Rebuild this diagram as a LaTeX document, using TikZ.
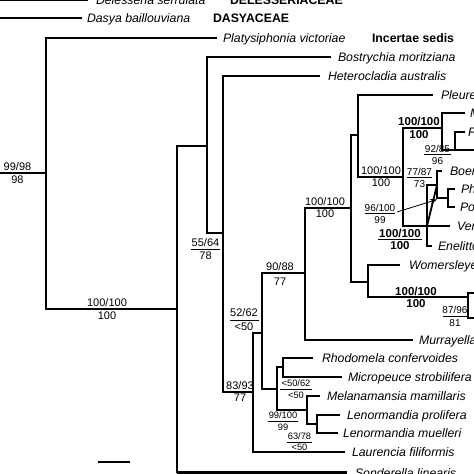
\documentclass[tikz,border=0pt]{standalone}
\usepackage{fontspec}
\setmainfont{Liberation Sans}
\usetikzlibrary{arrows.meta}
\tikzset{
  br/.style={line width=1.8pt, line join=miter},
  brthick/.style={line width=3.5pt},
  tx/.style={anchor=west, inner ysep=0pt, outer sep=0pt, inner xsep=#1, text height=8.8pt, text depth=0pt, font=\fontsize{12.3}{14}\selectfont\itshape},
  tx/.default=6pt,
  fam/.style={anchor=west, inner sep=0pt, outer sep=0pt, text height=8.8pt, text depth=0pt, font=\fontsize{12.3}{14}\selectfont\bfseries},
  bs/.style={inner sep=0pt, text height=7.9pt, text depth=0pt, font=\fontsize{11}{11}\selectfont},
  bsb/.style={inner sep=0pt, text height=8.2pt, text depth=0pt, font=\fontsize{11.5}{11}\selectfont\bfseries},
  bss/.style={inner sep=0pt, text height=7.2pt, text depth=0pt, font=\fontsize{10}{10}\selectfont},
  bsx/.style={inner sep=0pt, text height=6.6pt, text depth=0pt, font=\fontsize{9.3}{9}\selectfont},
  ul/.style={line width=0.9pt},
}
\begin{document}
\begin{tikzpicture}[x=1pt,y=-1pt]
\useasboundingbox (0,0) rectangle (474,474);
\clip (0,0) rectangle (474,474);

% internal nodes
\coordinate (r0) at (0,173);
\coordinate (n1) at (46,173);
\coordinate (n2) at (177,309);
\coordinate (n3) at (207,146);
\coordinate (n4) at (223,233);
\coordinate (n5) at (253,392);
\coordinate (n6) at (262,333);
\coordinate (n7) at (305,273);
\coordinate (n8) at (351,208);
\coordinate (n9) at (358,135);
\coordinate (n10) at (403,177);
\coordinate (n11) at (442,128);
\coordinate (n11b) at (455,150);
\coordinate (off1) at (474,150);
\coordinate (n13) at (427,226);
\coordinate (n13a) at (437,185);
\coordinate (n13b) at (448,198);
\coordinate (n14) at (368,282);
\coordinate (n15) at (468,297);
\coordinate (off2) at (474,293);
\coordinate (off3) at (474,318);
\coordinate (n12) at (277,389);
\coordinate (n12a) at (283,367);
\coordinate (n12b) at (307,410);
\coordinate (n12c) at (317,424);
\coordinate (l0) at (0,0);
\coordinate (l1) at (0,18);

% leaves
\node[tx=8pt] (del) at (88,0) {Delessena serrulata};
\node[fam] (delf) at (230,0) {DELESSERIACEAE};
\node[tx=5pt] (das) at (82,18) {Dasya baillouviana};
\node[fam] (dasf) at (213,18) {DASYACEAE};
\node[tx=6pt] (pla) at (217,38) {Platysiphonia victoriae};
\node[fam] (plaf) at (372,38) {Incertae sedis};
\node[tx=7pt] (bos) at (331,57) {Bostrychia moritziana};
\node[tx=8pt] (het) at (320,76) {Heterocladia australis};
\node[tx=8pt] (ple) at (433,95) {Pleure};
\node[tx=5pt] (mm) at (465,113) {M};
\node[tx=3pt] (ff) at (465,132) {F};
\node[tx=8pt] (boe) at (442,171) {Boergeseniella};
\node[tx=6pt] (ph) at (455,189) {Ph};
\node[tx=5pt] (po) at (455,207) {Po};
\node[tx=7pt] (ver) at (450,226) {Ver};
\node[tx=6pt] (ene) at (432,246) {Enelittosiphonia};
\node[tx=9pt] (wom) at (400,265) {Womersleyella};
\node[tx=6pt] (mur) at (413,340) {Murrayella};
\node[tx=9pt] (rho) at (313,358) {Rhodomela confervoides};
\node[tx=6pt] (mic) at (342,377) {Micropeuce strobilifera};
\node[tx=7pt] (mel) at (320,396) {Melanamansia mamillaris};
\node[tx=7pt] (lpr) at (340,415) {Lenormandia prolifera};
\node[tx=5pt] (lmu) at (338,433) {Lenormandia muelleri};
\node[tx=7pt] (lau) at (345,452) {Laurencia filiformis};
\node[tx=8pt] (son) at (347,473) {Sonderella linearis};

% branches
\draw[br] (l0) -- (del.west);
\draw[br] (l1) -- (das.west);
\draw[br] (r0) -- (n1);
\draw[br] (n1) |- (pla.west);
\draw[br] (n1) |- (n2);
\draw[br] (n2) |- (n3);
\draw[br] (n2) |- (son.west -| n2) ;
\draw[brthick] (n2 |- son.west) -- (son.west);
\draw[br] (n3) |- (bos.west);
\draw[br] (n3) |- (n4);
\draw[br] (n4) |- (het.west);
\draw[br] (n4) |- (n5);
\draw[br] (n5) |- (n6);
\draw[br] (n5) |- (lau.west);
\draw[br] (n6) |- (n7);
\draw[br] (n6) |- (n12);
\draw[br] (n7) |- (n8);
\draw[br] (n7) |- (mur.west);
\draw[br] (n8) |- (n9);
\draw[br] (n8) |- (n14);
\draw[br] (n9) |- (ple.west);
\draw[br] (n9) |- (n10);
\draw[br] (n10) |- (n11);
\draw[br] (n10) |- (n13);
\draw[br] (n11) |- (mm.west);
\draw[br] (n11) |- (off1);
\draw[br] (n11b) |- (ff.west);
\draw[br, line width=2.4pt] (n13) |- (n13a);
\draw[br] (n13a) -- (n13);
\draw[br] (n13) -- (ver.west);
\draw[br, line width=2.4pt] (n13) |- (ene.west);
\draw[br] (n13a) |- (boe.west);
\draw[br] (n13a) |- (n13b);
\draw[br] (n13b) |- (ph.west);
\draw[br] (n13b) |- (po.west);
\draw[br] (n14) |- (wom.west);
\draw[br] (n14) |- (n15);
\draw[br, line width=2.2pt] (n15) |- (off2);
\draw[br, line width=2.2pt] (n15) |- (off3);
\draw[br] (n12) |- (n12a);
\draw[br] (n12) |- (n12b);
\draw[br] (n12a) |- (rho.west);
\draw[br] (n12a) |- (mic.west);
\draw[br] (n12b) |- (mel.west);
\draw[br] (n12b) |- (n12c);
\draw[br] (n12c) |- (lpr.west);
\draw[br] (n12c) |- (lmu.west);

% support values
\node[bs] (s1a) at (17.5,167) {99/98};
\node[bs] (s1b) at (17.5,180) {98};
\node[bs] (s2a) at (107,303) {100/100};
\node[bs] (s2b) at (107,316) {100};
\node[bs] (s3a) at (205.5,243) {55/64};
\node[bs] (s3b) at (205.5,256) {78};
\draw[ul] (191,249.5) -- (220,249.5);
\node[bs] (s4a) at (244,313) {52/62};
\node[bs] (s4b) at (244,327) {<50};
\draw[ul] (230,320) -- (259,320);
\node[bs] (s5a) at (240,386) {83/93};
\node[bs] (s5b) at (240,398) {77};
\node[bs] (s6a) at (280,267) {90/88};
\node[bs] (s6b) at (280,282) {77};
\node[bs] (s7a) at (325,202) {100/100};
\node[bs] (s7b) at (325,214) {100};
\node[bs] (s8a) at (381,171) {100/100};
\node[bs] (s8b) at (381,182.5) {100};
\node[bsb] (s9a) at (419,121.5) {100/100};
\node[bsb] (s9b) at (419,134) {100};
\node[bss] (s10a) at (437.5,148.5) {92/85};
\node[bss] (s10b) at (437.5,160.5) {96};
\draw[ul] (424,154.5) -- (451,154.5);
\node[bss] (s11a) at (419.5,171.5) {77/87};
\node[bss] (s11b) at (419.5,183.5) {73};
\draw[ul] (407,177.5) -- (432,177.5);
\node[bss] (s12a) at (380,207.5) {96/100};
\node[bss] (s12b) at (380,219.5) {99};
\draw[ul] (365,213) -- (395,213);
\coordinate (a96) at (397,212);
\coordinate (at96) at (437,199.5);
\draw[line width=0.8pt, -{Stealth[length=7pt,width=5.5pt]}] (a96) -- (at96);
\node[bsb] (s13a) at (400,233) {100/100};
\node[bsb] (s13b) at (400,245.5) {100};
\draw[line width=1.6pt] (378,239.3) -- (422,239.3);
\node[bsb] (s14a) at (416,291) {100/100};
\node[bsb] (s14b) at (416,303.5) {100};
\node[bss] (s15a) at (455,310) {87/96};
\node[bss] (s15b) at (455,322.5) {81};
\draw[ul] (443,316) -- (467,316);
\node[bsx] (s16a) at (296,383) {<50/62};
\node[bsx] (s16b) at (296,395) {<50};
\draw[ul] (280,389) -- (312,389);
\node[bsx] (s17a) at (283,415) {99/100};
\node[bsx] (s17b) at (283,427) {99};
\draw[ul] (268,421) -- (298,421);
\node[bsx] (s18a) at (299.5,436) {63/78};
\node[bsx] (s18b) at (299.5,447.5) {<50};
\draw[ul] (287,442) -- (312,442);

% scale bar
\coordinate (sb1) at (98,462);
\coordinate (sb2) at (130,462);
\draw[line width=1.8pt] (sb1) -- (sb2);
\end{tikzpicture}
\end{document}
